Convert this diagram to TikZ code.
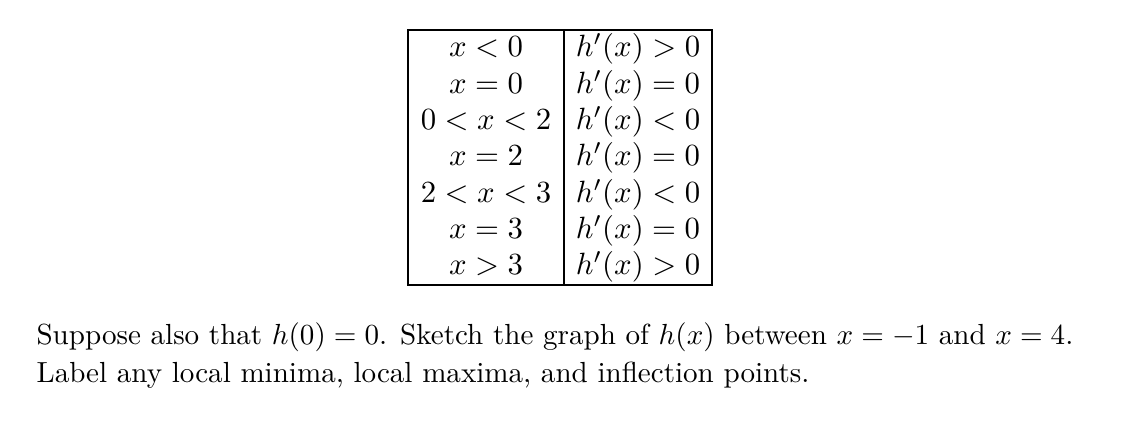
\documentclass[tikz,border=0pt]{standalone}
\begin{document}
\begin{tikzpicture}[x=0.325pt,y=-0.325pt,
  cell/.style={anchor=base,inner sep=0pt},
  txt/.style={anchor=base west,inner sep=0pt,scale=0.945}]
\useasboundingbox (0,0) rectangle (1128,424);
\draw[line width=0.4pt] (408,30) rectangle (712,285);
\draw[line width=0.4pt] (564,30) -- (564,285);
\foreach \i/\l/\r in {0/{x<0}/{h'(x)>0},1/{x=0}/{h'(x)=0},2/{0<x<2}/{h'(x)<0},3/{x=2}/{h'(x)=0},4/{2<x<3}/{h'(x)<0},5/{x=3}/{h'(x)=0},6/{x>3}/{h'(x)>0}}{
  \node[cell] (l\i) at (486,{57+36.3*\i}) {$\l$};
  \node[cell] (r\i) at (638,{57+36.3*\i}) {$\r$};
}
\node[txt] (t1) at (36,345) {Suppose also that $h(0)=0$. Sketch the graph of $h(x)$ between $x=-1$ and $x=4$.};
\node[txt] (t2) at (36,383) {Label any local minima, local maxima, and inflection points.};
\end{tikzpicture}
\end{document}
